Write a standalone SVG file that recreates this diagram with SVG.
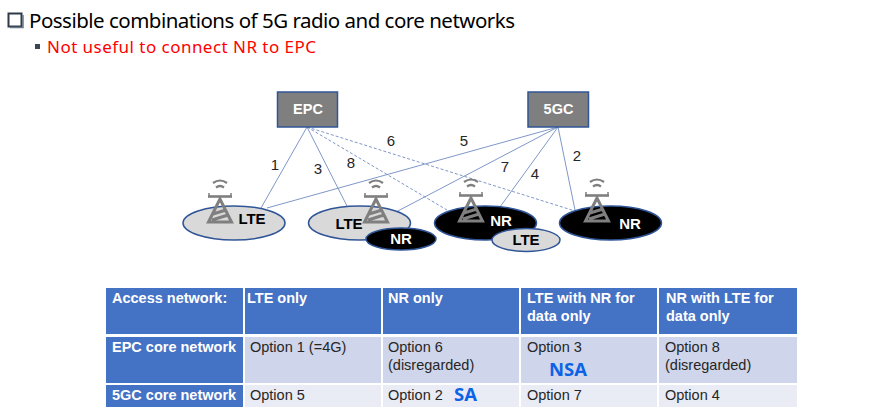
<svg xmlns="http://www.w3.org/2000/svg" width="873" height="411" viewBox="0 0 873 411">
<style>
text{font-family:"Liberation Sans",Arial,sans-serif}
.t{font-family:"Noto Sans","Open Sans",sans-serif}
.box{fill:#7f7f7f;stroke:#2f5597;stroke-width:1.5}
.bt{fill:#fff;font-weight:bold;font-size:14.500px;text-anchor:middle}
.lte{fill:#d9d9d9;stroke:#2f5597;stroke-width:1.5}
.nr{fill:#000;stroke:#2f5597;stroke-width:1.5}
.el{fill:#000;font-weight:bold;font-size:15px;text-anchor:middle}
.ew{fill:#fff;font-weight:bold;font-size:15px;text-anchor:middle}
.ln{stroke:#7f97c8;stroke-width:1;fill:none}
.ds{stroke:#7f97c8;stroke-width:1;fill:none;stroke-dasharray:3 2}
.n{font-size:15px;fill:#262626;text-anchor:middle}
.h{fill:#4472c4}.a{fill:#cfd5ea}.b{fill:#e9ebf5}
.th{fill:#fff;font-weight:bold;font-size:14.500px}
.td{fill:#262626;font-size:14.500px}
.bl{fill:#0b63e5;font-weight:bold;font-size:18.500px;font-family:"Open Sans","Noto Sans",sans-serif}
.tw{fill:none;stroke:#7f7f7f}
</style>
<defs>
<g id="tower">
<path class="tw" stroke-width="2.200" d="M-7-31Q0-36 7-31M-4-26.500Q0-29.500 4-26.500"/>
<path class="tw" stroke-width="2.600" d="M-12-17.500H12"/>
<path class="tw" stroke-width="1.500" d="M-11-21v4M11-21v4"/>
<path class="tw" stroke-width="3" d="M0-15L-11.500 8H11.500ZM-7 0L6-4M-8 6L8 1"/>
</g>
</defs>
<g id="title">
<rect x="8.500" y="13.500" width="13" height="13" fill="#fff" stroke="#2f3a48" stroke-width="2"/>
<path d="M10 27.500H23V15" fill="none" stroke="#6b7786" stroke-width="1.500"/>
<text class="t" x="29" y="28" font-size="20.500" fill="#000" textLength="486" lengthAdjust="spacing">Possible combinations of 5G radio and core networks</text>
<rect x="35" y="44" width="5" height="5" fill="#3b4654"/>
<text class="t" x="47" y="53" font-size="17" fill="#ff0000" textLength="269" lengthAdjust="spacing">Not useful to connect NR to EPC</text>
</g>
<g id="connectors">
<path class="ln" d="M307 127L261 208M307 127L347 206M558 127L267 208M558 127L396 212M558 127L500 207M558 127L575 210"/>
<path class="ds" d="M307 127L575 211M307 127L447 210"/>
</g>
<g id="node-epc"><rect class="box" x="277.500" y="92" width="60" height="35"/><text class="bt" x="308" y="114">EPC</text></g>
<g id="node-5gc"><rect class="box" x="528" y="92" width="60.500" height="35"/><text class="bt" x="558.500" y="114">5GC</text></g>
<g id="node-lte1"><ellipse class="lte" cx="234" cy="223" rx="51" ry="17"/><use href="#tower" x="220" y="214"/><text class="el" x="252" y="224">LTE</text></g>
<g id="node-lte-nr"><ellipse class="lte" cx="359.500" cy="223" rx="51" ry="17"/><use href="#tower" x="376" y="214"/><text class="el" x="349" y="229">LTE</text><ellipse class="nr" cx="401" cy="239" rx="35" ry="11"/><text class="ew" x="401" y="244">NR</text></g>
<g id="node-nr-lte"><ellipse class="nr" cx="485.500" cy="223" rx="51" ry="17"/><use href="#tower" x="471" y="213"/><text class="ew" x="501" y="226">NR</text><ellipse class="lte" cx="526" cy="240" rx="34" ry="11.500"/><text class="el" x="526" y="245">LTE</text></g>
<g id="node-nr"><ellipse class="nr" cx="610.500" cy="223" rx="51" ry="17"/><use href="#tower" x="597" y="213"/><text class="ew" x="630" y="229">NR</text></g>
<g id="labels">
<text class="n" x="275" y="170">1</text><text class="n" x="318" y="174">3</text><text class="n" x="351" y="168">8</text><text class="n" x="391" y="146">6</text><text class="n" x="464" y="146">5</text><text class="n" x="505" y="172">7</text><text class="n" x="535" y="179">4</text><text class="n" x="577" y="161">2</text>
</g>
<g id="table">
<rect class="h" x="106" y="288" width="137" height="46"/><rect class="h" x="245" y="288" width="136" height="46"/><rect class="h" x="383" y="288" width="136" height="46"/><rect class="h" x="521" y="288" width="136" height="46"/><rect class="h" x="659" y="288" width="138" height="46"/>
<rect class="h" x="106" y="337" width="137" height="46"/><rect class="a" x="245" y="337" width="136" height="46"/><rect class="a" x="383" y="337" width="136" height="46"/><rect class="a" x="521" y="337" width="136" height="46"/><rect class="a" x="659" y="337" width="138" height="46"/>
<rect class="h" x="106" y="385" width="137" height="22"/><rect class="b" x="245" y="385" width="136" height="22"/><rect class="b" x="383" y="385" width="136" height="22"/><rect class="b" x="521" y="385" width="136" height="22"/><rect class="b" x="659" y="385" width="138" height="22"/>
<text class="th" x="112" y="303">Access network:</text><text class="th" x="247" y="303">LTE only</text><text class="th" x="388" y="303">NR only</text><text class="th" x="527" y="303">LTE with NR for</text><text class="th" x="527" y="321">data only</text><text class="th" x="666" y="303">NR with LTE for</text><text class="th" x="666" y="321">data only</text>
<text class="th" x="112" y="352">EPC core network</text><text class="td" x="250" y="352">Option 1 (=4G)</text><text class="td" x="388" y="352">Option 6</text><text class="td" x="388" y="370">(disregarded)</text><text class="td" x="527" y="352">Option 3</text><text class="bl" x="549" y="376">NSA</text><text class="td" x="665" y="352">Option 8</text><text class="td" x="665" y="370">(disregarded)</text>
<text class="th" x="112" y="400">5GC core network</text><text class="td" x="250" y="400">Option 5</text><text class="td" x="388" y="400">Option 2</text><text class="bl" x="454" y="401">SA</text><text class="td" x="527" y="400">Option 7</text><text class="td" x="665" y="400">Option 4</text>
</g>
</svg>
